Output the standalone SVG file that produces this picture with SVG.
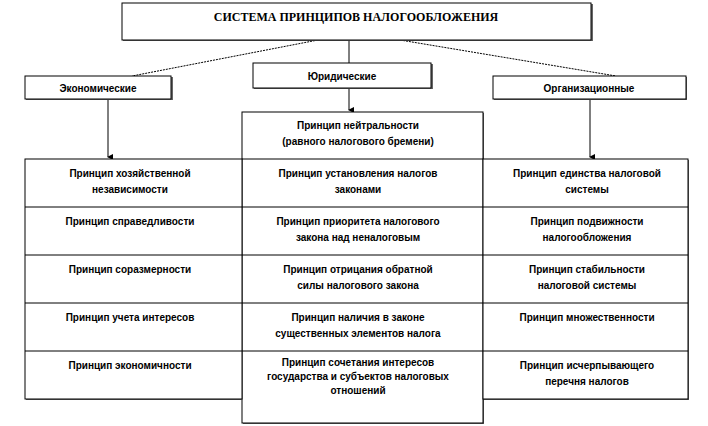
<svg xmlns="http://www.w3.org/2000/svg" width="708" height="426" viewBox="0 0 708 426">
<defs>
<marker id="ar" markerWidth="6" markerHeight="6" refX="3" refY="5" orient="auto-start-reverse" markerUnits="userSpaceOnUse"><path d="M0,0 L6,0 L3,6 z" fill="#000"/></marker>
</defs>
<style>
.b{fill:#fff;stroke:#000;stroke-width:1}
.s{fill:#666}
text{font-family:"Liberation Sans",Arial,sans-serif;font-size:10px;font-weight:bold;text-anchor:middle;fill:#000}
.t{font-size:12px;font-family:"Liberation Serif","Times New Roman",serif}
.c{stroke:#000;stroke-width:1;fill:none}
</style>
<rect x="0" y="0" width="708" height="426" fill="#fff"/>
<g id="connectors">
<line class="c" x1="349" y1="40" x2="349" y2="63"/>
<line class="c" x1="318" y1="40" x2="132" y2="76" stroke-dasharray="2,1"/>
<line class="c" x1="400" y1="40" x2="616" y2="76" stroke-dasharray="2,1"/>
<line class="c" x1="108" y1="99" x2="108" y2="157" marker-end="url(#ar)"/>
<line class="c" x1="349" y1="88" x2="349" y2="110" marker-end="url(#ar)"/>
<line class="c" x1="590" y1="99" x2="590" y2="157" marker-end="url(#ar)"/>
</g>
<g id="title"><rect class="s" x="123" y="4" width="470" height="37"/><rect class="b" x="122" y="3" width="469" height="37"/><text class="t" x="356" y="21">СИСТЕМА ПРИНЦИПОВ НАЛОГООБЛОЖЕНИЯ</text></g>
<g id="econ"><rect class="s" x="26" y="77" width="147" height="23"/><rect class="b" x="25" y="76" width="146" height="23"/><text x="98" y="92">Экономические</text></g>
<g id="jur"><rect class="s" x="254" y="64" width="179" height="25"/><rect class="b" x="253" y="63" width="178" height="25"/><text x="342" y="80">Юридические</text></g>
<g id="org"><rect class="s" x="494" y="77" width="193" height="23"/><rect class="b" x="493" y="76" width="193" height="23"/><text x="589" y="92">Организационные</text></g>

<g id="center"><rect class="s" x="243" y="113" width="241" height="311"/><rect class="b" x="242" y="112" width="241" height="311"/>
<text x="358" y="129">Принцип  нейтральности</text><text x="358" y="145">(равного  налогового  бремени)</text>
<line class="c" x1="242" y1="159" x2="483" y2="159"/>
<text x="358" y="177">Принцип  установления  налогов</text><text x="358" y="193">законами</text>
<line class="c" x1="242" y1="207" x2="483" y2="207"/>
<text x="358" y="225">Принцип  приоритета  налогового</text><text x="358" y="241">закона над неналоговым</text>
<line class="c" x1="242" y1="255" x2="483" y2="255"/>
<text x="358" y="273">Принцип  отрицания  обратной</text><text x="358" y="289">силы налогового  закона</text>
<line class="c" x1="242" y1="303" x2="483" y2="303"/>
<text x="358" y="321">Принцип  наличия  в законе</text><text x="358" y="337">существенных  элементов  налога</text>
<line class="c" x1="242" y1="351" x2="483" y2="351"/>
<text x="358" y="366">Принцип сочетания интересов</text><text x="358" y="380">государства и субъектов налоговых</text><text x="358" y="394">отношений</text>
</g>

<g id="left"><rect class="s" x="26" y="160" width="216" height="240"/><rect class="b" x="25" y="159" width="217" height="240"/>
<line class="c" x1="25" y1="207" x2="242" y2="207"/><line class="c" x1="25" y1="255" x2="242" y2="255"/><line class="c" x1="25" y1="303" x2="242" y2="303"/><line class="c" x1="25" y1="351" x2="242" y2="351"/>
<text x="130" y="177">Принцип  хозяйственной</text><text x="130" y="193">независимости</text>
<text x="130" y="225">Принцип  справедливости</text>
<text x="130" y="273">Принцип  соразмерности</text>
<text x="130" y="321">Принцип  учета интересов</text>
<text x="130" y="369">Принцип  экономичности</text>
</g>

<g id="right"><rect class="s" x="484" y="160" width="205" height="240"/><rect class="b" x="483" y="159" width="205" height="240"/>
<line class="c" x1="483" y1="207" x2="688" y2="207"/><line class="c" x1="483" y1="255" x2="688" y2="255"/><line class="c" x1="483" y1="303" x2="688" y2="303"/><line class="c" x1="483" y1="351" x2="688" y2="351"/>
<text x="587" y="177">Принцип  единства налоговой</text><text x="587" y="193">системы</text>
<text x="587" y="225">Принцип  подвижности</text><text x="587" y="241">налогообложения</text>
<text x="587" y="273">Принцип  стабильности</text><text x="587" y="289">налоговой  системы</text>
<text x="587" y="321">Принцип  множественности</text>
<text x="587" y="369">Принцип  исчерпывающего</text><text x="587" y="385">перечня  налогов</text>
</g>
</svg>
